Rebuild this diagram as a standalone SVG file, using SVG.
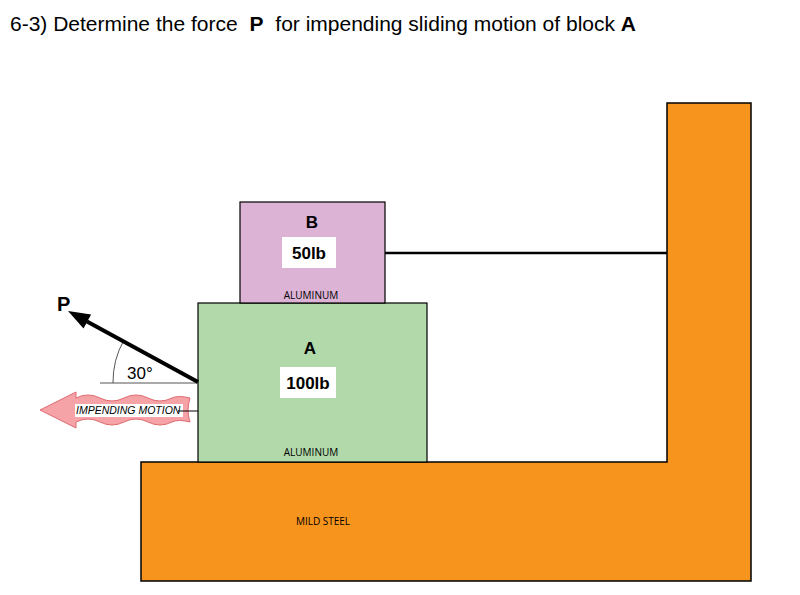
<svg xmlns="http://www.w3.org/2000/svg" width="800" height="595" viewBox="0 0 800 595">
<style>
.t{font-family:"Liberation Sans",Arial,sans-serif}
.b{font-weight:bold}
.s{font-family:"Open Sans","Liberation Sans",sans-serif;font-size:10px}
</style>
<rect width="800" height="595" fill="#fff"/>
<text class="t" x="10" y="31" font-size="21">6-3) Determine the force <tspan class="b" dx="6">P</tspan> <tspan dx="6">for impending sliding motion of block</tspan> <tspan class="b">A</tspan></text>
<g id="steel"><path d="M141,462 H667 V103 H751 V581 H141 Z" fill="#f7941d" stroke="#000" stroke-width="1.5"/>
<text class="s" x="323" y="525" text-anchor="middle">MILD STEEL</text></g>
<g id="blockA"><rect x="198" y="303" width="229" height="159" fill="#b1d9aa" stroke="#000" stroke-width="1.2"/>
<text class="t b" x="310" y="354" font-size="17" text-anchor="middle">A</text>
<rect x="280" y="367" width="56" height="31" fill="#fff"/>
<text class="t b" x="308" y="389" font-size="17" text-anchor="middle">100lb</text>
<text class="s" x="311" y="456" text-anchor="middle">ALUMINUM</text></g>
<g id="blockB"><rect x="240" y="202" width="145" height="101" fill="#dcb2d5" stroke="#000" stroke-width="1.2"/>
<text class="t b" x="312" y="228" font-size="17" text-anchor="middle">B</text>
<rect x="282" y="237" width="54" height="31" fill="#fff"/>
<text class="t b" x="309" y="259" font-size="17" text-anchor="middle">50lb</text>
<text class="s" x="311" y="299" text-anchor="middle">ALUMINUM</text></g>
<g id="motion"><path d="M40,410 L76,392 V398 Q88,392 100,398 Q112,404 124,398 Q136,392 148,398 Q160,404 172,398 Q178,395 190,398 Q186,410 190,422 Q178,419 172,422 Q160,428 148,422 Q136,416 124,422 Q112,428 100,422 Q88,416 76,422 V428 Z" fill="#f6a3a7" stroke="#e06a70" stroke-width="1"/>
<rect x="75" y="404" width="108" height="13" fill="#fff"/>
<text class="t" x="76" y="414" font-size="10.5" font-style="italic">IMPENDING MOTION</text>
<line x1="178" y1="411" x2="198" y2="411" stroke="#000"/></g>
<g id="connectors">
<line x1="385" y1="253" x2="667" y2="253" stroke="#000" stroke-width="2.5"/>
<line x1="100" y1="383" x2="198" y2="383" stroke="#555" stroke-width="1"/>
<path d="M113,383 A85,85 0 0 1 124,340" fill="none" stroke="#555"/>
<line x1="198" y1="382" x2="87" y2="321.5" stroke="#000" stroke-width="4"/>
<polygon points="68,311 91.1,314.5 83.5,328.5" fill="#000"/>
</g>
<text class="t b" x="57" y="311" font-size="20">P</text>
<text class="t" x="127" y="379" font-size="17">30°</text>
</svg>
